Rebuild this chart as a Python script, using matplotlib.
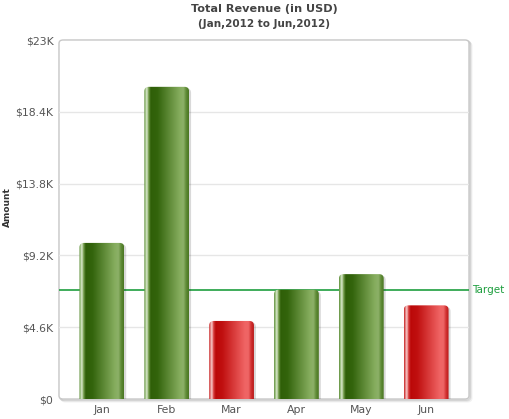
import numpy as np
import matplotlib
matplotlib.use("Agg")
import matplotlib.pyplot as plt
from matplotlib.path import Path
from matplotlib.patches import PathPatch, FancyBboxPatch
from matplotlib.colors import LinearSegmentedColormap

months = ["Jan", "Feb", "Mar", "Apr", "May", "Jun"]
revenue = [10000, 20000, 5000, 7000, 8000, 6000]
target = 7000
y_ticks = [0, 4600, 9200, 13800, 18400, 23000]
y_tick_labels = ["$0", "$4.6K", "$9.2K", "$13.8K", "$18.4K", "$23K"]

W, H = 510, 419
fig = plt.figure(figsize=(W / 100, H / 100), dpi=100)
fig.patch.set_facecolor("white")

L, R, T, B = 59, 469, 40, 399
ax = fig.add_axes([L / W, (H - B) / H, (R - L) / W, (B - T) / H])
ax.set_zorder(1)
ax.set_xlim(-0.66, 5.66)
ax.set_ylim(0, 23000)
ax.patch.set_alpha(0)
for s in ax.spines.values():
    s.set_visible(False)

# frame with shadow
for off, a in [(2.5, 0.05), (1.5, 0.07), (0.8, 0.09)]:
    fig.patches.append(FancyBboxPatch(((L + off) / W, (H - B - off) / H), (R - L) / W, (B - T) / H,
                                      boxstyle="round,pad=0,rounding_size=0.008",
                                      transform=fig.transFigure, facecolor="none",
                                      edgecolor=(0, 0, 0, a), lw=1.5, zorder=-2))
fig.patches.append(FancyBboxPatch((L / W, (H - B) / H), (R - L) / W, (B - T) / H,
                                  boxstyle="round,pad=0,rounding_size=0.008",
                                  transform=fig.transFigure, facecolor="white",
                                  edgecolor="#c8c8c8", lw=1.0, zorder=-1))

ax.set_yticks(y_ticks)
ax.set_yticklabels(y_tick_labels)
ax.set_xticks(range(len(months)))
ax.set_xticklabels(months)
ax.tick_params(length=0, labelsize=7.8, colors="#555555", pad=4)
ax.tick_params(axis="y", pad=4)
for yv in y_ticks[1:-1]:
    ax.axhline(yv, color="#e6e6e6", lw=1, zorder=1)

green_cmap = LinearSegmentedColormap.from_list("g", [
    (0.0, "#5a8a35"), (0.03, "#9cc080"), (0.06, "#e0ecd4"), (0.10, "#78a050"),
    (0.15, "#2f5f08"), (0.30, "#33640c"), (0.80, "#86ad5e"), (0.88, "#8cb068"),
    (0.94, "#5e8a36"), (1.0, "#4a7622")])
red_cmap = LinearSegmentedColormap.from_list("r", [
    (0.0, "#c82020"), (0.03, "#e08080"), (0.06, "#fad0d0"), (0.10, "#d84040"),
    (0.15, "#bb0808"), (0.30, "#c01010"), (0.80, "#f06464"), (0.88, "#ee6666"),
    (0.94, "#d03030"), (1.0, "#b81818")])

bw = 0.69
px_x = (R - L) / (5.66 + 0.66)
px_y = (B - T) / 23000
r_px = 4.5
rx = r_px / px_x
ry = r_px / px_y
grad = np.linspace(0, 1, 256).reshape(1, -1)

codes = [Path.MOVETO, Path.LINETO, Path.LINETO, Path.CURVE3, Path.CURVE3,
         Path.LINETO, Path.CURVE3, Path.CURVE3, Path.CLOSEPOLY]
for i, v in enumerate(revenue):
    x0, x1 = i - bw / 2, i + bw / 2
    # shadow
    sx = 2.0 / px_x
    sy = 1.5 / px_y
    verts = [(x0 + sx, 0), (x1 + sx, 0), (x1 + sx, v - ry - sy), (x1 + sx, v - sy), (x1 + sx - rx, v - sy),
             (x0 + sx + rx, v - sy), (x0 + sx, v - sy), (x0 + sx, v - ry - sy), (x0 + sx, 0)]
    ax.add_patch(PathPatch(Path(verts, codes), facecolor=(0, 0, 0, 0.15), edgecolor="none", zorder=3))
    verts = [(x0, 0), (x1, 0), (x1, v - ry), (x1, v), (x1 - rx, v),
             (x0 + rx, v), (x0, v), (x0, v - ry), (x0, 0)]
    patch = PathPatch(Path(verts, codes), facecolor="none", edgecolor="none", zorder=4)
    ax.add_patch(patch)
    cmap = green_cmap if v >= target else red_cmap
    im = ax.imshow(grad, cmap=cmap, aspect="auto", extent=(x0, x1, 0, v),
                   interpolation="bilinear", zorder=4)
    im.set_clip_path(patch)

ax.set_xlim(-0.66, 5.66)
ax.set_ylim(0, 23000)

ax.axhline(target, color="#1e9e3e", lw=1.2, zorder=2)
ax.text(5.66 + 3 / px_x, target, "Target", color="#1e9e3e", fontsize=7.5,
        va="center", ha="left", clip_on=False)

fig.text(7 / W, 1 - 207 / H, "Amount", rotation=90, ha="center", va="center",
         fontsize=6.5, fontweight="bold", color="#333333")

fig.text(264 / W, 1 - 9 / H, "Total Revenue (in USD)", ha="center", va="center",
         fontsize=8.1, fontweight="bold", color="#444444")
fig.text(264 / W, 1 - 24 / H, "(Jan,2012 to Jun,2012)", ha="center", va="center",
         fontsize=7.5, fontweight="bold", color="#444444")

fig.savefig("out.png", dpi=100, facecolor="white")
